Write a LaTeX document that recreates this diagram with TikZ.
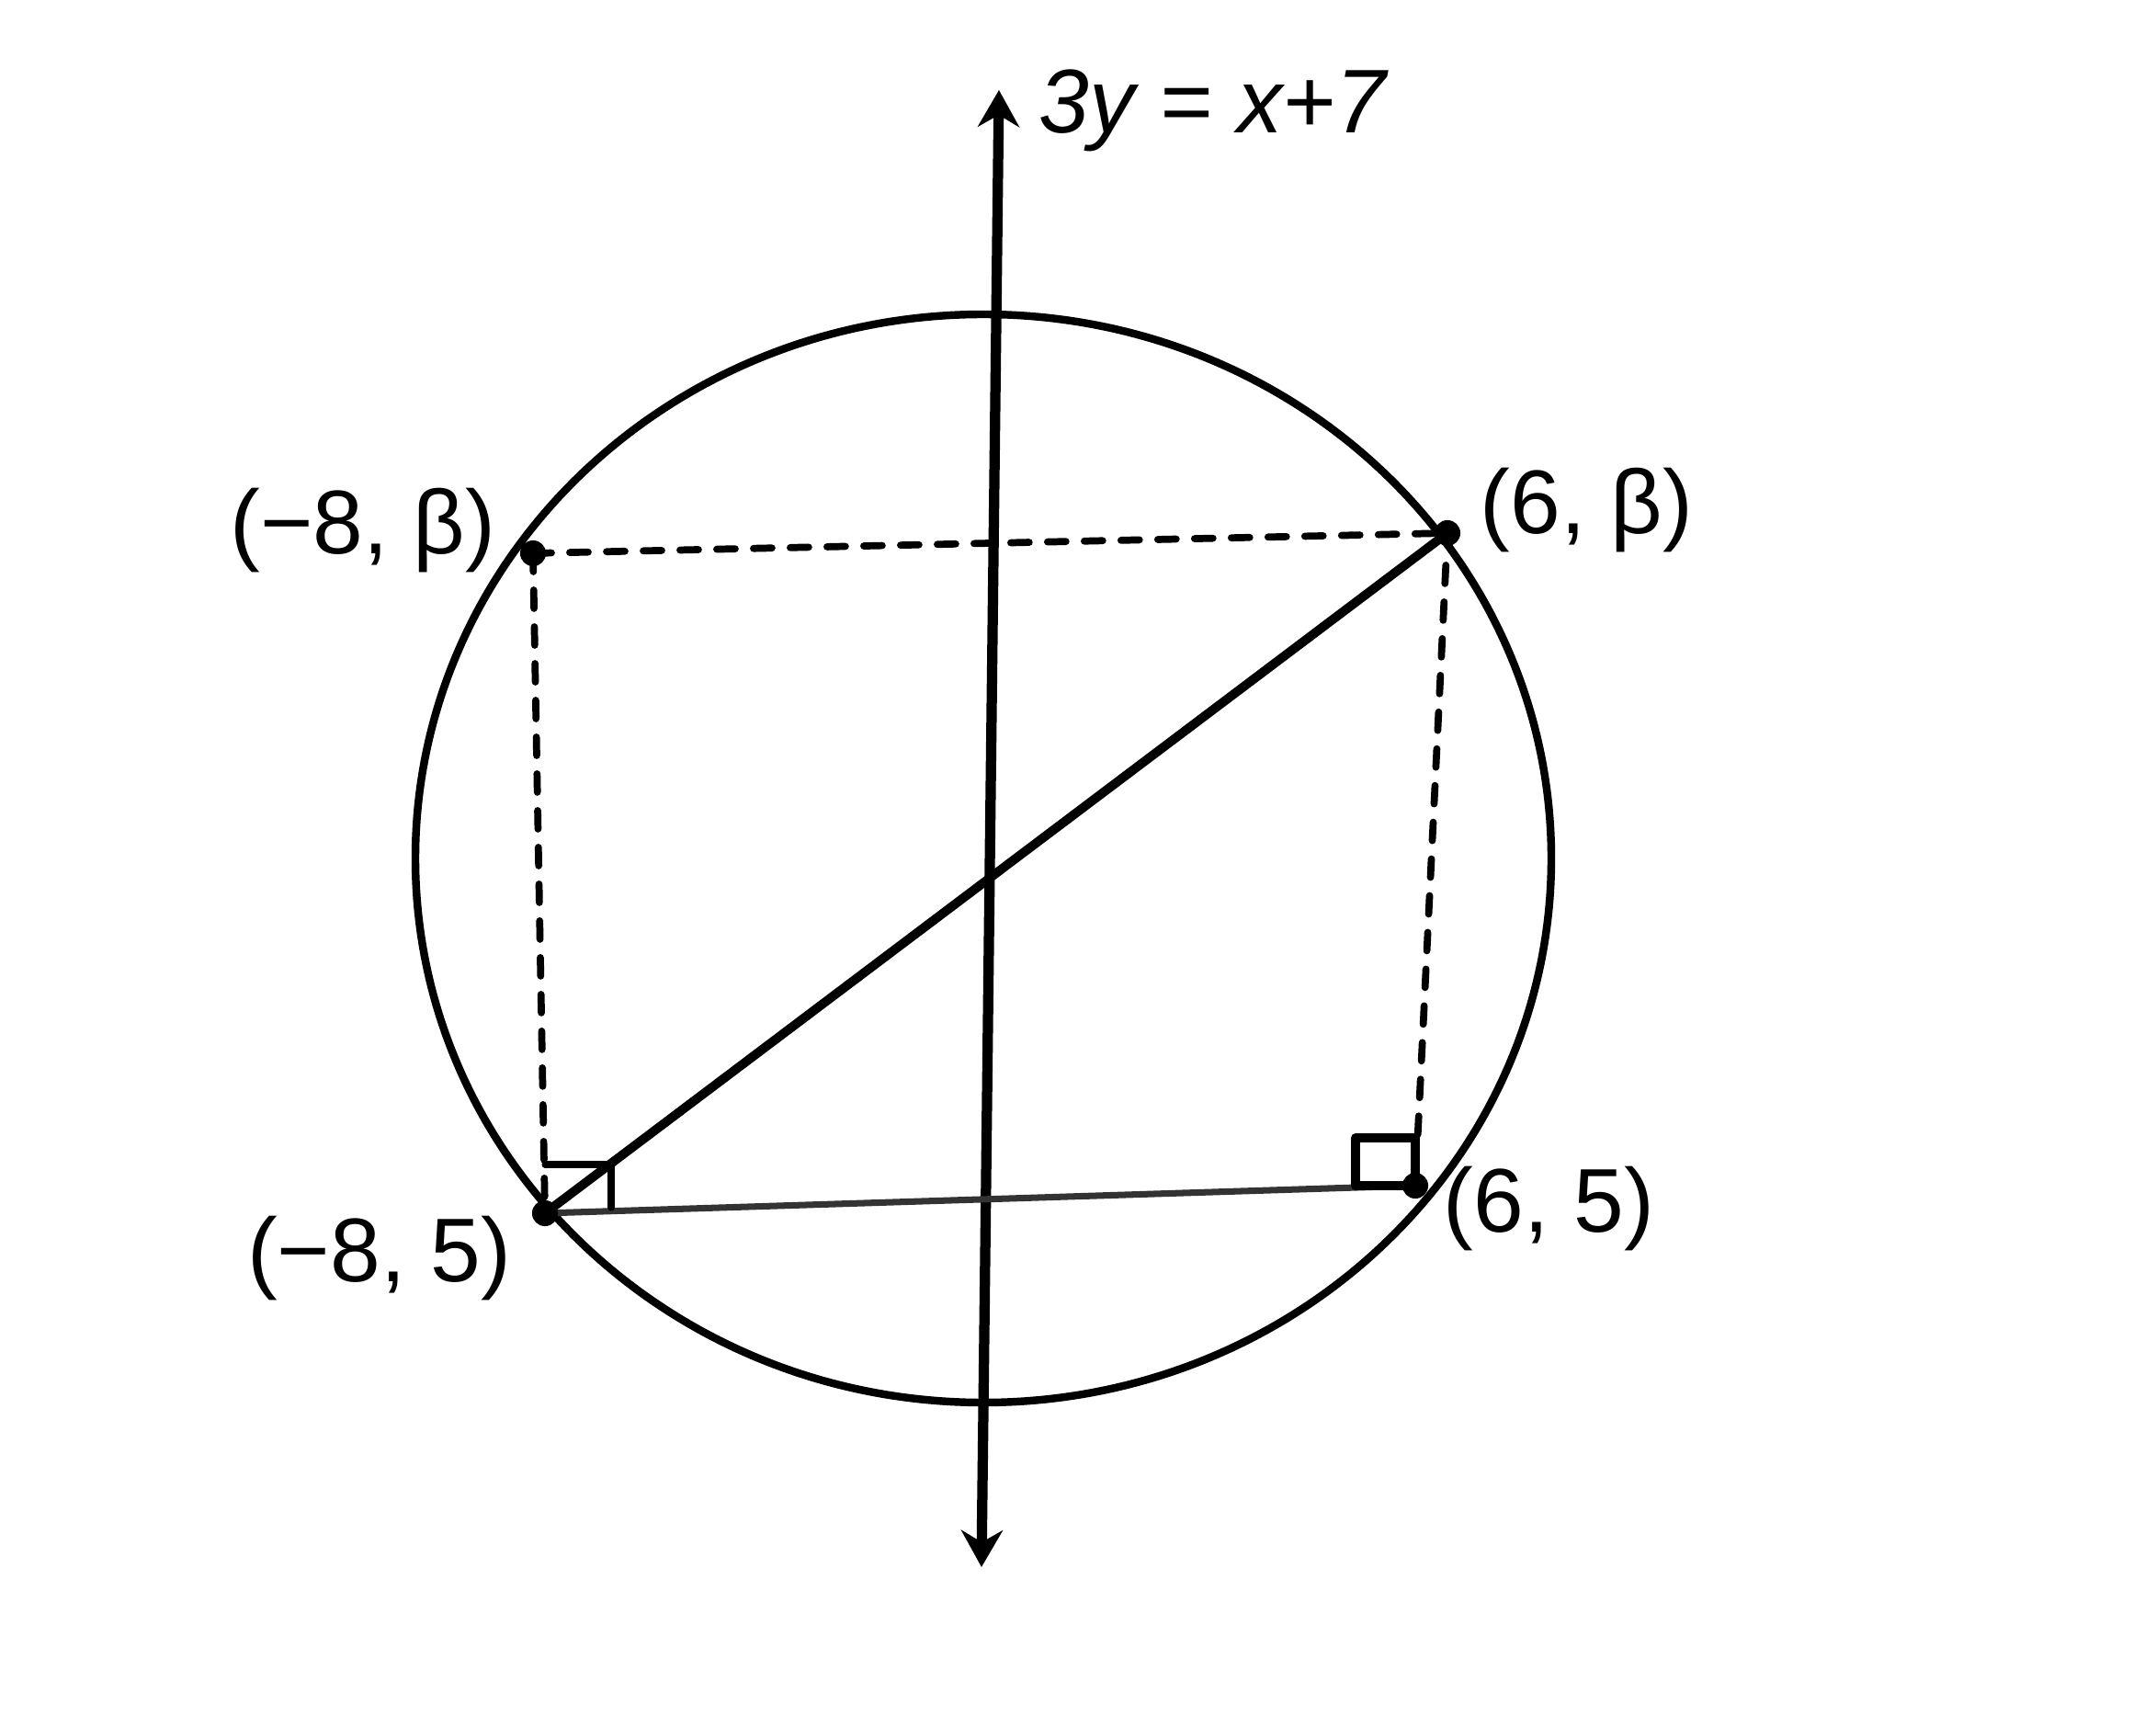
\documentclass[tikz,border=0pt]{standalone}
\usepackage{fontspec}
\setmainfont{Liberation Sans}
\usetikzlibrary{arrows.meta}
\tikzset{lbl/.style={font=\fontsize{28}{32}\selectfont, inner sep=0pt},
	dsh/.style={line width=2.2pt, dash pattern=on 0.2cm off 0.2cm}}
\begin{document}
\begin{tikzpicture}[>={Stealth[length=4mm,width=4.5mm]},line join=round, line cap=round]
	\useasboundingbox (0,0) rectangle (23.46,18.78);
	\def \rx{6.18}\def \ry{5.92}
	\coordinate (O) at (10.70,9.44);
	\coordinate (A) at (5.80,12.76); \coordinate (B) at (15.75,12.98);
	\coordinate (C) at (5.93,5.58);  \coordinate (D) at (15.40,5.88);
	\coordinate (top) at (10.87,17.80); \coordinate (bot) at (10.68,1.73);
	% circle and line
	\draw[line width=2.4pt] (O) ellipse ({\rx} and {\ry});
	\draw[<->, line width=3.2pt] (bot) -- (top);
	\node[lbl, anchor=west, font=\fontsize{28}{32}\selectfont\itshape] (eq) at (11.30,17.58) {3y = x+7};
	% chords
	\draw[dsh] (A) -- (B);
	\draw[dsh] (A) -- (C);
	\draw[dsh, shorten <=0.35cm, shorten >=0.5cm] (B) -- (D);
	\draw[line width=2.8pt] (C) -- (B);
	\draw[line width=2pt, black!80] (C) -- (D);
	% right angles
	\draw[line width=2.6pt] (D) ++(-0.65,0) rectangle ++(0.65,0.52);
	\draw[line width=2pt] (C) ++(0,0.53) -- ++(0.72,0) -- ++(0,-0.47);
	\fill (A) circle(4pt) (B) circle(4pt) (C) circle(4pt) (D) circle(4pt);
	% labels
	\node[lbl, anchor=east, shift={(-0.40,0.25)}] (lA) at (A) {(−8, β)};
	\node[lbl, anchor=west, shift={(0.35,0.25)}] (lB) at (B) {(6, β)};
	\node[lbl, anchor=east, shift={(-0.36,-0.49)}] (lC) at (C) {(−8, 5)};
	\node[lbl, anchor=west, shift={(0.30,-0.25)}] (lD) at (D) {(6, 5)};
\end{tikzpicture}
\end{document}
